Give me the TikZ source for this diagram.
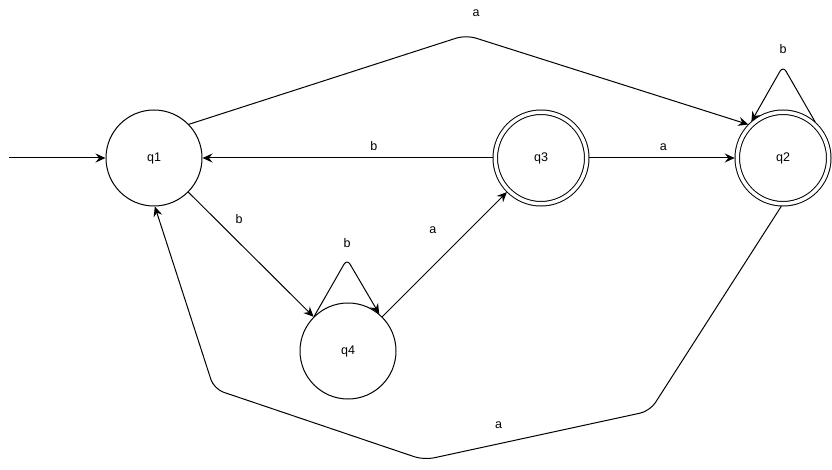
\documentclass[tikz,border=0pt]{standalone}
\usepackage{fontspec}
\setmainfont{Liberation Sans}
\usetikzlibrary{arrows.meta}
\begin{document}
\begin{tikzpicture}[x=1pt,y=-1pt,
  font=\fontsize{12.5}{14}\selectfont,
  line width=1pt,
  state/.style={circle,draw,minimum size=96pt,inner sep=0pt,outer sep=0.5pt},
  accstate/.style={circle,draw,double,double distance=3.5pt,minimum size=91.5pt,inner sep=0pt,outer sep=2.5pt},
  tr/.style={-{Stealth[length=10pt,width=9pt,inset=3.5pt]}},
  lbl/.style={inner sep=1pt}
]
\useasboundingbox (0,0) rectangle (832,470);
\fill[white] (0,0) rectangle (832,470);
\node[state] (q1) at (154,158) {q1};
\node[accstate] (q3) at (541,158) {q3};
\node[accstate] (q2) at (783,158) {q2};
\node[state] (q4) at (348,351) {q4};
\coordinate (start) at (9,158);
\coordinate (topc) at (466,35);
\coordinate (q2top) at (783,66);
\coordinate (q4top) at (347,259);
\coordinate (b1) at (650,411);
\coordinate (b2) at (424,460);
\coordinate (b3) at (214,389);

\draw[tr] (start) -- (q1);
\draw[tr,rounded corners=10pt] (q1.44) -- (topc) node[lbl,pos=1,xshift=10pt,yshift=22pt] {a} -- (q2.136);
\draw[tr] (q3) -- node[lbl,pos=0.41,yshift=12pt] {b} (q1);
\draw[tr] (q3) -- node[lbl,pos=0.51,yshift=11pt] {a} (q2);
\draw[tr] (q1) -- node[lbl,pos=0.31,xshift=12pt,yshift=12pt] {b} (q4);
\draw[tr] (q4) -- node[lbl,pos=0.55,xshift=-18pt,yshift=18pt] {a} (q3);
\draw[tr,rounded corners=6pt] (q2.48) -- (q2top) node[lbl,pos=1,yshift=17pt] {b} -- (q2.131);
\draw[tr,rounded corners=6pt] (q4.134) -- (q4top) node[lbl,pos=1,yshift=16pt] {b} -- (q4.50);
\draw[tr,rounded corners=10pt] (q2.268) -- (b1) -- (b2) node[lbl,pos=0.67,yshift=19pt] {a} -- (b3) -- (q1.271);
\end{tikzpicture}
\end{document}
